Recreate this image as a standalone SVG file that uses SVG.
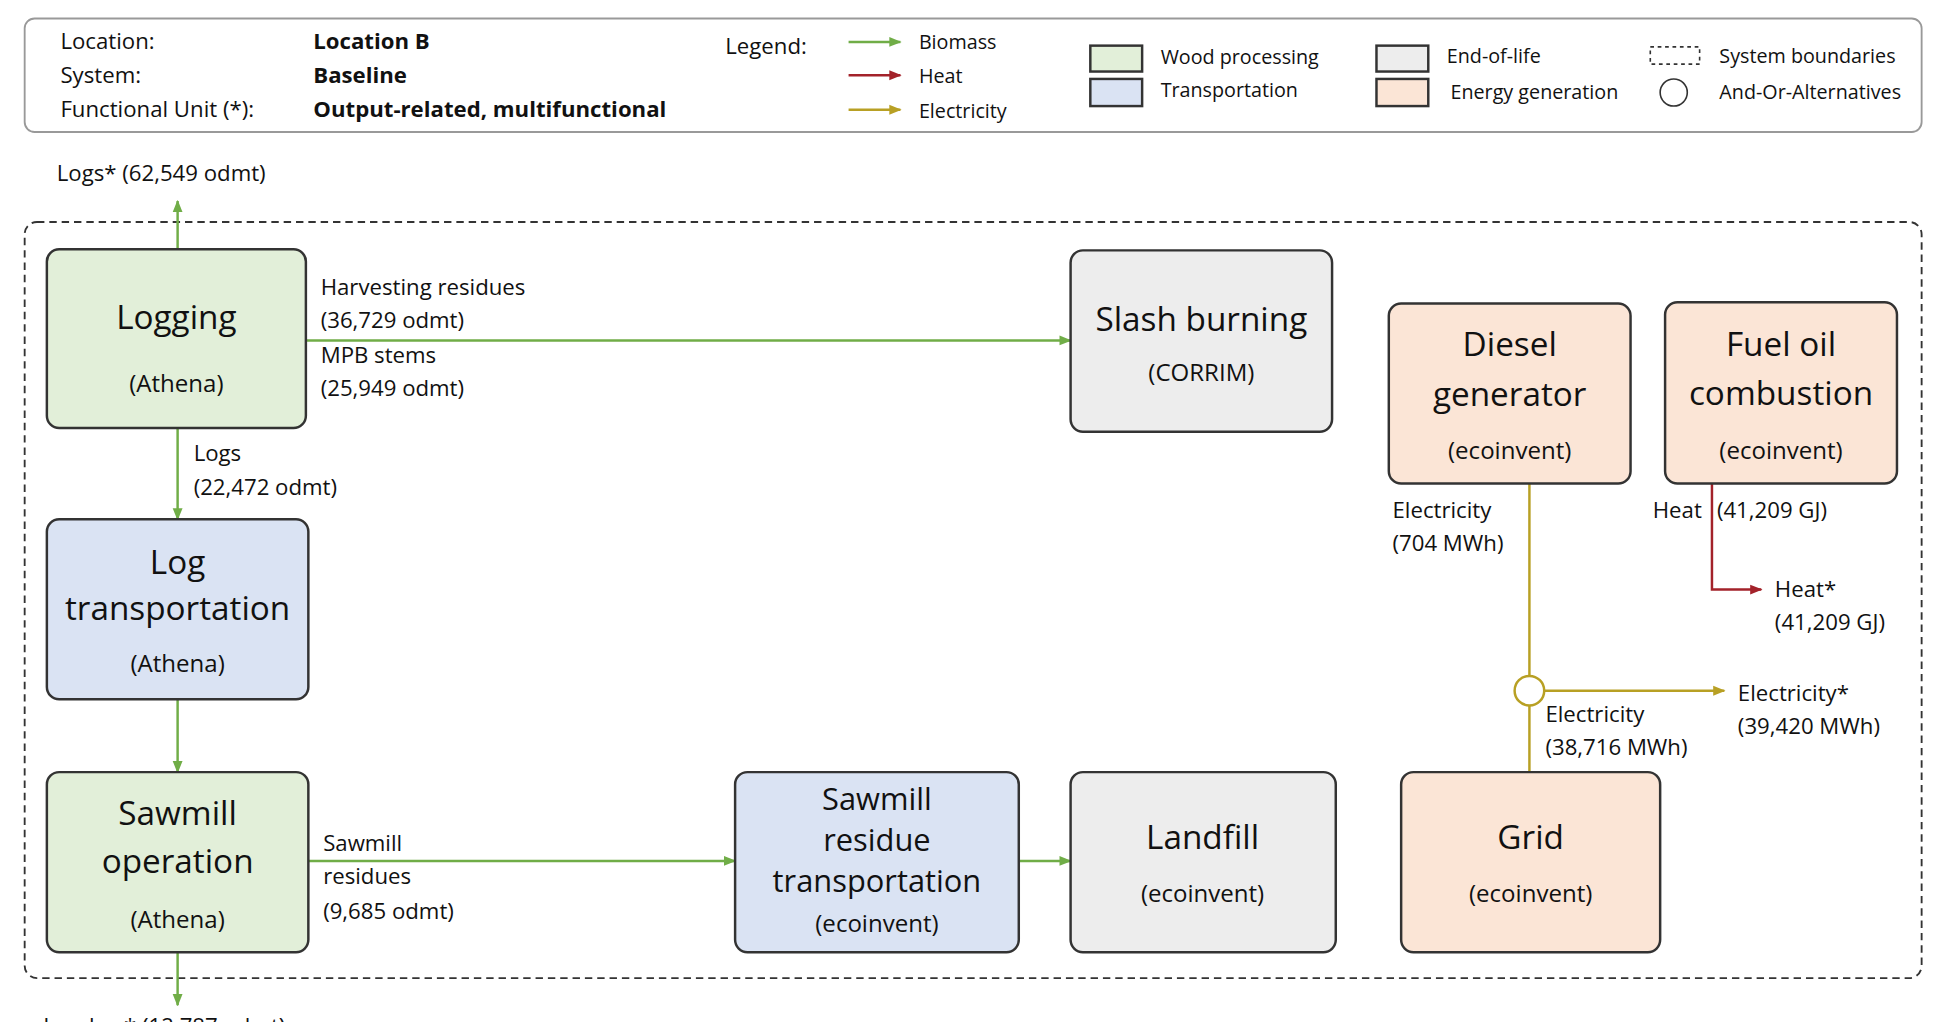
<svg xmlns="http://www.w3.org/2000/svg" width="1934" height="1022" viewBox="0 0 1934 1022">
<defs>
<style>
text{font-family:"Open Sans","DejaVu Sans",sans-serif;fill:#111}
.s{font-size:18px}.b{font-weight:bold}.lg{font-size:16px}
.t{font-size:27px;text-anchor:middle}.m{font-size:19.5px;text-anchor:middle}
.t2{font-size:25px;text-anchor:middle}
.node{stroke:#333;stroke-width:2}
.g{fill:#e2efd9}.bl{fill:#dae3f3}.gr{fill:#ededed}.be{fill:#fbe5d6}
.cg{stroke:#70ad47;stroke-width:2;fill:none}
.cr{stroke:#a3222a;stroke-width:2;fill:none}
.cy{stroke:#b8a024;stroke-width:2;fill:none}
</style>
<marker id="ag" markerWidth="10" markerHeight="10" refX="9" refY="5" orient="auto" markerUnits="userSpaceOnUse"><path d="M0,1 L10,5 L0,9z" fill="#70ad47"/></marker>
<marker id="ar" markerWidth="10" markerHeight="10" refX="9" refY="5" orient="auto" markerUnits="userSpaceOnUse"><path d="M0,1 L10,5 L0,9z" fill="#a3222a"/></marker>
<marker id="ay" markerWidth="10" markerHeight="10" refX="9" refY="5" orient="auto" markerUnits="userSpaceOnUse"><path d="M0,1 L10,5 L0,9z" fill="#b8a024"/></marker>
</defs>
<rect width="1934" height="1022" fill="#fff"/>
<g transform="scale(1.2334)">
<g id="legend">
<rect x="20" y="15" width="1538" height="92" rx="8" fill="#fff" stroke="#999" stroke-width="1.5"/>
<text class="s" x="49" y="40">Location:</text>
<text class="s" x="49" y="67">System:</text>
<text class="s" x="49" y="95">Functional Unit (*):</text>
<text class="s b" x="254" y="40">Location B</text>
<text class="s b" x="254" y="67">Baseline</text>
<text class="s b" x="254" y="95">Output-related, multifunctional</text>
<text class="s" x="588" y="44">Legend:</text>
<line class="cg" x1="688" y1="34" x2="730" y2="34" marker-end="url(#ag)"/>
<line class="cr" x1="688" y1="61" x2="730" y2="61" marker-end="url(#ar)"/>
<line class="cy" x1="688" y1="89" x2="730" y2="89" marker-end="url(#ay)"/>
<text class="lg" x="745" y="40">Biomass</text>
<text class="lg" x="745" y="67">Heat</text>
<text class="lg" x="745" y="96">Electricity</text>
<rect class="node g" x="884" y="37" width="42" height="21" stroke-width="1.5"/>
<rect class="node bl" x="884" y="64" width="42" height="22" stroke-width="1.5"/>
<text class="lg" x="941" y="52">Wood processing</text>
<text class="lg" x="941" y="79">Transportation</text>
<rect class="node gr" x="1116" y="37" width="42" height="21" stroke-width="1.5"/>
<rect class="node be" x="1116" y="64" width="42" height="22" stroke-width="1.5"/>
<text class="lg" x="1173" y="51">End-of-life</text>
<text class="lg" x="1176" y="80">Energy generation</text>
<rect x="1338" y="38" width="40" height="14" fill="none" stroke="#333" stroke-width="1.3" stroke-dasharray="3,3"/>
<text class="lg" x="1394" y="51">System boundaries</text>
<circle cx="1357" cy="75" r="11" fill="#fff" stroke="#333" stroke-width="1.3"/>
<text class="lg" x="1394" y="80">And-Or-Alternatives</text>
</g>
<rect id="boundary" x="20" y="180" width="1538" height="613" rx="10" fill="none" stroke="#333" stroke-width="1.5" stroke-dasharray="6,4"/>
<g id="connectors">
<line class="cg" x1="144" y1="202" x2="144" y2="163" marker-end="url(#ag)"/>
<line class="cg" x1="248" y1="276" x2="868" y2="276" marker-end="url(#ag)"/>
<line class="cg" x1="144" y1="347" x2="144" y2="421" marker-end="url(#ag)"/>
<line class="cg" x1="144" y1="567" x2="144" y2="626" marker-end="url(#ag)"/>
<line class="cg" x1="144" y1="772" x2="144" y2="815" marker-end="url(#ag)"/>
<line class="cg" x1="250" y1="698" x2="596" y2="698" marker-end="url(#ag)"/>
<line class="cg" x1="826" y1="698" x2="868" y2="698" marker-end="url(#ag)"/>
<line class="cy" x1="1240" y1="392" x2="1240" y2="548"/>
<line class="cy" x1="1240" y1="626" x2="1240" y2="572"/>
<line class="cy" x1="1252" y1="560" x2="1398" y2="560" marker-end="url(#ay)"/>
<polyline class="cr" points="1388,392 1388,478 1428,478" marker-end="url(#ar)"/>
<circle cx="1240" cy="560" r="12" fill="#fff" stroke="#b8a024" stroke-width="2"/>
<text class="s" x="46" y="147">Logs* (62,549 odmt)</text>
<text class="s" x="260" y="239">Harvesting residues</text>
<text class="s" x="260" y="266">(36,729 odmt)</text>
<text class="s" x="260" y="294">MPB stems</text>
<text class="s" x="260" y="321">(25,949 odmt)</text>
<text class="s" x="157" y="374">Logs</text>
<text class="s" x="157" y="401">(22,472 odmt)</text>
<text class="s" x="35" y="838">Lumber* (12,787 odmt)</text>
<text class="s" x="262" y="690">Sawmill</text>
<text class="s" x="262" y="717">residues</text>
<text class="s" x="262" y="745">(9,685 odmt)</text>
<text class="s" x="1129" y="420">Electricity</text>
<text class="s" x="1129" y="447">(704 MWh)</text>
<text class="s" x="1409" y="568">Electricity*</text>
<text class="s" x="1409" y="595">(39,420 MWh)</text>
<text class="s" x="1253" y="585">Electricity</text>
<text class="s" x="1253" y="612">(38,716 MWh)</text>
<text class="s" x="1340" y="420">Heat</text>
<text class="s" x="1392" y="420">(41,209 GJ)</text>
<text class="s" x="1439" y="484">Heat*</text>
<text class="s" x="1439" y="511">(41,209 GJ)</text>
</g>
<g id="logging"><rect class="node g" x="38" y="202" width="210" height="145" rx="10"/><text class="t" x="143" y="267">Logging</text><text class="m" x="143" y="318">(Athena)</text></g>
<g id="logtransport"><rect class="node bl" x="38" y="421" width="212" height="146" rx="10"/><text class="t" x="144" y="465">Log</text><text class="t" x="144" y="503">transportation</text><text class="m" x="144" y="545">(Athena)</text></g>
<g id="sawmill"><rect class="node g" x="38" y="626" width="212" height="146" rx="10"/><text class="t" x="144" y="669">Sawmill</text><text class="t" x="144" y="708">operation</text><text class="m" x="144" y="752">(Athena)</text></g>
<g id="slash"><rect class="node gr" x="868" y="203" width="212" height="147" rx="10"/><text class="t" x="974" y="268">Slash burning</text><text class="m" x="974" y="309">(CORRIM)</text></g>
<g id="residuetransport"><rect class="node bl" x="596" y="626" width="230" height="146" rx="10"/><text class="t2" x="711" y="657">Sawmill</text><text class="t2" x="711" y="690">residue</text><text class="t2" x="711" y="723">transportation</text><text class="m" x="711" y="756">(ecoinvent)</text></g>
<g id="landfill"><rect class="node gr" x="868" y="626" width="215" height="146" rx="10"/><text class="t" x="975" y="688">Landfill</text><text class="m" x="975" y="731">(ecoinvent)</text></g>
<g id="diesel"><rect class="node be" x="1126" y="246" width="196" height="146" rx="10"/><text class="t" x="1224" y="289">Diesel</text><text class="t" x="1224" y="329">generator</text><text class="m" x="1224" y="372">(ecoinvent)</text></g>
<g id="fueloil"><rect class="node be" x="1350" y="245" width="188" height="147" rx="10"/><text class="t" x="1444" y="289">Fuel oil</text><text class="t" x="1444" y="328">combustion</text><text class="m" x="1444" y="372">(ecoinvent)</text></g>
<g id="grid"><rect class="node be" x="1136" y="626" width="210" height="146" rx="10"/><text class="t" x="1241" y="688">Grid</text><text class="m" x="1241" y="731">(ecoinvent)</text></g>
</g>
</svg>
